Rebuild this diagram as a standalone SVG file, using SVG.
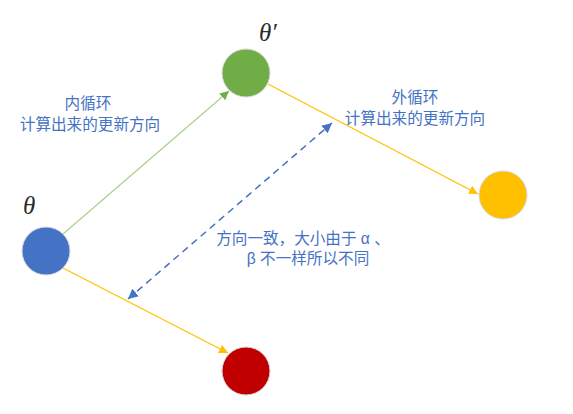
<svg xmlns="http://www.w3.org/2000/svg" width="573" height="414" viewBox="0 0 573 414">
<style>
.lbl{font-family:"Liberation Sans","Noto Sans CJK SC",sans-serif;font-size:15.6px;fill:#4472C4;text-anchor:middle}
.math{font-family:"Liberation Serif","DejaVu Serif",serif;font-style:italic;font-size:25px;fill:#2b2b2b}
.node{stroke:#d9d9d9;stroke-width:1}
</style>
<defs>
<marker id="ag" viewBox="0 0 10 10" refX="10" refY="5" markerWidth="9" markerHeight="9" markerUnits="userSpaceOnUse" orient="auto"><path d="M0,0L10,5L0,10z" fill="#70AD47"/></marker>
<marker id="ay" viewBox="0 0 10 10" refX="10" refY="5" markerWidth="9" markerHeight="9" markerUnits="userSpaceOnUse" orient="auto"><path d="M0,0L10,5L0,10z" fill="#FFC000"/></marker>
<marker id="ab" viewBox="0 0 10 10" refX="10" refY="5" markerWidth="10" markerHeight="10" markerUnits="userSpaceOnUse" orient="auto-start-reverse"><path d="M0,0L10,5L0,10z" fill="#4472C4"/></marker>
</defs>
<rect width="573" height="414" fill="#fff"/>
<g id="connectors">
<line x1="63" y1="234" x2="229" y2="91" stroke="#A9D18E" stroke-width="1.2" marker-end="url(#ag)"/>
<line x1="268" y1="84" x2="478" y2="194" stroke="#FFC000" stroke-width="1.2" marker-end="url(#ay)"/>
<line x1="63" y1="268" x2="228" y2="353" stroke="#FFC000" stroke-width="1.2" marker-end="url(#ay)"/>
<line x1="128" y1="299" x2="332" y2="123" stroke="#4472C4" stroke-width="1.5" stroke-dasharray="7,5" marker-start="url(#ab)" marker-end="url(#ab)"/>
</g>
<g id="theta"><circle class="node" cx="46" cy="251" r="24" fill="#4472C4"/><text class="math" x="23" y="214">θ</text></g>
<g id="theta-prime"><circle class="node" cx="246" cy="73" r="24" fill="#70AD47"/><text class="math" x="259" y="41">θ′</text></g>
<g id="outer"><circle class="node" cx="503" cy="195" r="24" fill="#FFC000"/></g>
<g id="inner"><circle class="node" cx="246" cy="371" r="24" fill="#C00000"/></g>
<g id="labels">
<text class="lbl" x="88" y="109">内循环</text>
<text class="lbl" x="90" y="130">计算出来的更新方向</text>
<text class="lbl" x="415" y="103">外循环</text>
<text class="lbl" x="415" y="124">计算出来的更新方向</text>
<text class="lbl" x="303" y="244">方向一致，大小由于 α 、</text>
<text class="lbl" x="308" y="264">β 不一样所以不同</text>
</g>
</svg>
